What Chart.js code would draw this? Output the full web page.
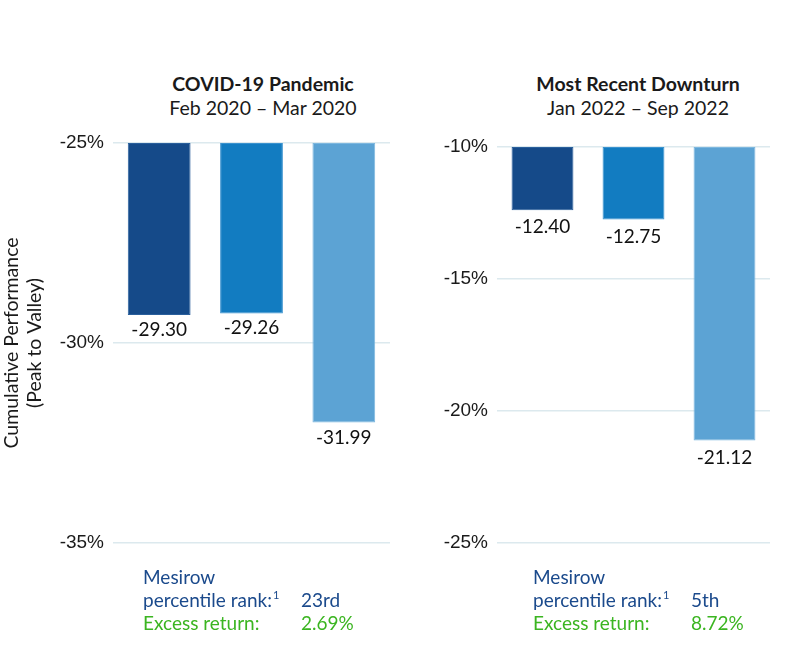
<!DOCTYPE html>
<html>
<head>
<meta charset="utf-8">
<script src="https://cdn.jsdelivr.net/npm/chart.js@4/dist/chart.umd.min.js"></script>
<style>
  html, body { margin: 0; padding: 0; background: #fff; }
  body { width: 800px; height: 648px; position: relative; overflow: hidden; font-family: Lato, "Noto Sans", sans-serif; }
  .cv { position: absolute; top: 0; width: 400px; height: 648px; }
  .ttl { position: absolute; width: 300px; text-align: center; color: #1a1a1a; font-size: 19.5px; line-height: 24px; }
  .ttl b { font-weight: 700; }
  .note { position: absolute; font-size: 19px; line-height: 23px; }
  .note div { position: relative; height: 23px; white-space: nowrap; }
  .note .v { position: absolute; left: 158px; top: 0; }
  .blue { color: #1b4a8c; }
  .green { color: #3bb521; }
  sup { font-size: 11px; vertical-align: 8px; line-height: 0; margin-left: 1px; }
</style>
</head>
<body>
<div class="ttl" style="left:113px; top:72px;"><b>COVID-19 Pandemic</b><br>Feb 2020 – Mar 2020</div>
<div class="ttl" style="left:488px; top:72px;"><b>Most Recent Downturn</b><br>Jan 2022 – Sep 2022</div>

<div class="cv" style="left:0"><canvas id="c1"></canvas></div>
<div class="cv" style="left:400px"><canvas id="c2"></canvas></div>

<div class="note" style="left:143px; top:565px;">
  <div class="blue">Mesirow</div>
  <div class="blue">percentile rank:<sup>1</sup><span class="v">23rd</span></div>
  <div class="green">Excess return:<span class="v">2.69%</span></div>
</div>
<div class="note" style="left:533px; top:565px;">
  <div class="blue">Mesirow</div>
  <div class="blue">percentile rank:<sup>1</sup><span class="v">5th</span></div>
  <div class="green">Excess return:<span class="v">8.72%</span></div>
</div>

<script>
// ---- data ----
const categories = ['Mesirow', 'Benchmark', 'Peer Median'];
const covidValues = [-29.30, -29.26, -31.99];
const recentValues = [-12.40, -12.75, -21.12];
const covidAxis = { min: -35, max: -25, step: 5 };
const recentAxis = { min: -25, max: -10, step: 5 };
const yAxisTitle = ['Cumulative Performance', '(Peak to Valley)'];
const barColors = ['#154a89', '#127cc1', '#5ca3d4'];
const barBorders = ['#2a5f9c', '#3a92cf', '#7db7df'];

// ---- plugin drawing value labels under bars ----
const valueLabels = {
  id: 'valueLabels',
  afterDatasetsDraw(chart, args, opts) {
    const ctx = chart.ctx;
    const meta = chart.getDatasetMeta(0);
    const vals = opts.values;
    ctx.save();
    ctx.font = '19px Lato, "Noto Sans", sans-serif';
    ctx.fillStyle = '#111';
    ctx.textAlign = 'center';
    ctx.textBaseline = 'alphabetic';
    meta.data.forEach((bar, i) => {
      const bottom = Math.max(bar.y, bar.base);
      ctx.fillText(vals[i].toFixed(2), bar.x, bottom + opts.offset);
    });
    ctx.restore();
  }
};

function makeChart(id, values, axis, pad, axisWidth, showTitle, labelOffset) {
  const data = values.map(v => [axis.max, v]);
  return new Chart(document.getElementById(id), {
    type: 'bar',
    data: {
      labels: categories,
      datasets: [{
        data: data,
        backgroundColor: barColors,
        borderColor: barBorders,
        borderWidth: 1,
        borderSkipped: false,
        barPercentage: 0.68,
        categoryPercentage: 1.0
      }]
    },
    options: {
      responsive: true,
      maintainAspectRatio: false,
      animation: false,
      layout: { padding: pad },
      plugins: {
        legend: { display: false },
        tooltip: { enabled: false },
        valueLabels: { values: values, offset: labelOffset }
      },
      scales: {
        x: { display: false },
        y: {
          min: axis.min,
          max: axis.max,
          afterFit(s) { s.width = axisWidth; },
          border: { display: false },
          grid: { color: '#dce9ee', lineWidth: 1.6, drawTicks: false },
          ticks: {
            stepSize: axis.step,
            padding: 9,
            color: '#1a1a1a',
            font: { family: '"Liberation Sans", Arial, sans-serif', size: 19 },
            callback: v => v + '%'
          },
          title: {
            display: showTitle,
            text: yAxisTitle,
            color: '#1a1a1a',
            font: { family: 'Lato, "Noto Sans", sans-serif', size: 19.5, lineHeight: 1.2 },
            padding: { top: 0, bottom: 0 }
          }
        }
      }
    },
    plugins: [valueLabels]
  });
}

makeChart('c1', covidValues, covidAxis, { top: 143, bottom: 105, left: 0, right: 10 }, 113, true, 21);
makeChart('c2', recentValues, recentAxis, { top: 147, bottom: 105, left: 0, right: 30 }, 97, false, 23);
</script>
</body>
</html>
